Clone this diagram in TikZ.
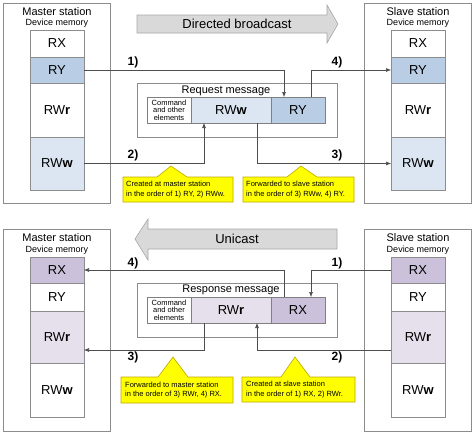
\documentclass[tikz,border=0pt]{standalone}
\usepackage{fontspec}
\setmainfont{Liberation Sans}
\usepackage{xcolor}
\usetikzlibrary{arrows.meta}
\definecolor{ryblue}{HTML}{B9CDE5}
\definecolor{rwwblue}{HTML}{DCE6F2}
\definecolor{rxpurple}{HTML}{CCC1DA}
\definecolor{rwrpurple}{HTML}{E6E0EC}
\definecolor{boxline}{HTML}{8C8C8C}
\definecolor{wire}{HTML}{4D4D4D}
\definecolor{notefill}{HTML}{FFFF00}
\definecolor{noteline}{HTML}{BFA600}
\definecolor{bandfill}{HTML}{D9D9D9}
\definecolor{bandline}{HTML}{A6A6A6}

\begin{document}
\begin{tikzpicture}[x=1pt, y=-1pt,
        station/.style={draw=boxline, fill=white, anchor=north west, inner sep=0, outer sep=0, minimum width=107},
        cell/.style={draw=boxline, anchor=north west, inner sep=0, outer sep=0, minimum width=54, font=\fontsize{13}{15}\selectfont},
        msgcell/.style={cell, draw=gray},
        title/.style={font=\fontsize{11}{13}\selectfont},
        sub/.style={font=\fontsize{9}{11}\selectfont},
        num/.style={font=\bfseries\fontsize{12}{14}\selectfont},
        link/.style={draw=wire, line width=0.6pt, -{Latex[length=5,width=4]}},
        band/.style={draw=bandline, fill=bandfill, line width=0.6pt},
        note/.style={draw=noteline, fill=notefill, line width=0.6pt},
        notetext/.style={anchor=west, align=left, inner sep=0, font=\fontsize{7.5}{9.5}\selectfont}
    ]
        %\draw[gray] (0,0) grid[step=10] (474,434);
        \useasboundingbox (0,0) rectangle (474,434);

        % --- directed broadcast ---
        \node[station, minimum height=200] (mst) at (3,3) {};
        \node[title] (mstT) at (57,12) {Master station};
        \node[sub] (mstS) at (57,23) {Device memory};
        \node[cell, minimum height=27] (mRX) at (30,30) {RX};
        \node[cell, minimum height=26, fill=ryblue] (mRY) at (30,57) {RY};
        \node[cell, minimum height=54] (mRWr) at (30,83) {RW\textbf{r}};
        \node[cell, minimum height=53, fill=rwwblue] (mRWw) at (30,137) {RW\textbf{w}};

        \node[station, minimum height=200] (sst) at (364,3) {};
        \node[title] (sstT) at (418,12) {Slave station};
        \node[sub] (sstS) at (418,23) {Device memory};
        \node[cell, minimum height=27] (sRX) at (391,30) {RX};
        \node[cell, minimum height=26, fill=ryblue] (sRY) at (391,57) {RY};
        \node[cell, minimum height=54] (sRWr) at (391,83) {RW\textbf{r}};
        \node[cell, minimum height=53, fill=rwwblue] (sRWw) at (391,137) {RW\textbf{w}};

        \draw[band] (137,15) -- (327,15) -- (327,5) -- (338,24) -- (327,43) -- (327,33) -- (137,33) -- cycle;
        \node[font=\fontsize{13}{15}\selectfont] (bcast) at (237,24) {Directed broadcast};

        \node[station, minimum width=200, minimum height=54] (req) at (137,83) {};
        \node[title] (reqT) at (226,91) {Request message};
        \node[msgcell, minimum width=44, minimum height=26, fill=white, align=center, font=\fontsize{7.5}{7.5}\selectfont] (qCmd) at (147,97) {Command\\and other\\elements};
        \node[msgcell, minimum width=80, minimum height=26, fill=rwwblue] (qRWw) at (191,97) {RW\textbf{w}};
        \node[msgcell, minimum height=26, fill=ryblue] (qRY) at (271,97) {RY};

        \draw[link] (mRY.east) -| ([xshift=13]qRY.north west);
        \draw[link] (mRWw.east) -| ([xshift=13]qRWw.south west);
        \draw[link] ([xshift=-14]qRWw.south east) |- (sRWw.west);
        \draw[link] ([xshift=-14]qRY.north east) |- (sRY.west);
        \node[num] (q1) at (133,62) {1)};
        \node[num] (q2) at (133,155) {2)};
        \node[num] (q3) at (337,155) {3)};
        \node[num] (q4) at (337,62) {4)};

        \draw[note] (123,177) -- (157,177) -- (171,166) -- (187,177) -- (233,177) -- (233,202) -- (123,202) -- cycle;
        \node[notetext] (qNote1) at (126,189.5) {Created at master station\\in the order of 1) RY, 2) RWw.};
        \draw[note] (243,177) -- (287,177) -- (301,166) -- (317,177) -- (354,177) -- (354,202) -- (243,202) -- cycle;
        \node[notetext] (qNote2) at (246,189.5) {Forwarded to slave station\\in the order of 3) RWw, 4) RY.};

        % --- unicast ---
        \node[station, minimum height=202] (mst2) at (3,229) {};
        \node[title] (mst2T) at (57,238) {Master station};
        \node[sub] (mst2S) at (57,250) {Device memory};
        \node[cell, minimum height=26, fill=rxpurple] (nRX) at (30,257) {RX};
        \node[cell, minimum height=28] (nRY) at (30,283) {RY};
        \node[cell, minimum height=52, fill=rwrpurple] (nRWr) at (30,311) {RW\textbf{r}};
        \node[cell, minimum height=54] (nRWw) at (30,363) {RW\textbf{w}};

        \node[station, minimum height=202] (sst2) at (364,229) {};
        \node[title] (sst2T) at (418,238) {Slave station};
        \node[sub] (sst2S) at (418,250) {Device memory};
        \node[cell, minimum height=26, fill=rxpurple] (tRX) at (391,257) {RX};
        \node[cell, minimum height=28] (tRY) at (391,283) {RY};
        \node[cell, minimum height=52, fill=rwrpurple] (tRWr) at (391,311) {RW\textbf{r}};
        \node[cell, minimum height=54] (tRWw) at (391,363) {RW\textbf{w}};

        \draw[band] (337,229) -- (148,229) -- (148,219) -- (135,239) -- (148,260) -- (148,249) -- (337,249) -- cycle;
        \node[font=\fontsize{13}{15}\selectfont] (ucast) at (237,239) {Unicast};

        \node[station, minimum width=200, minimum height=54] (resp) at (137,283) {};
        \node[title] (respT) at (231,290) {Response message};
        \node[msgcell, minimum width=44, minimum height=26, fill=white, align=center, font=\fontsize{7.5}{7.5}\selectfont] (pCmd) at (147,297) {Command\\and other\\elements};
        \node[msgcell, minimum width=80, minimum height=26, fill=rwrpurple] (pRWr) at (191,297) {RW\textbf{r}};
        \node[msgcell, minimum height=26, fill=rxpurple] (pRX) at (271,297) {RX};

        \draw[link] (tRX.west) -| ([xshift=-14]pRX.north east);
        \draw[link] ([yshift=-13]tRWr.west) -| ([xshift=-14]pRWr.south east);
        \draw[link] ([xshift=13]pRWr.south west) |- ([yshift=-13]nRWr.east);
        \draw[link] ([xshift=13]pRX.north west) |- (nRX.east);
        \node[num] (p1) at (337,263) {1)};
        \node[num] (p2) at (337,357) {2)};
        \node[num] (p3) at (133,357) {3)};
        \node[num] (p4) at (133,263) {4)};

        \draw[note] (121,377) -- (158,377) -- (173,357) -- (188,377) -- (233,377) -- (233,403) -- (121,403) -- cycle;
        \node[notetext] (pNote1) at (125,390) {Forwarded to master station\\in the order of 3) RWr, 4) RX.};
        \draw[note] (242,377) -- (281,377) -- (295,357) -- (310,377) -- (355,377) -- (355,402) -- (242,402) -- cycle;
        \node[notetext] (pNote2) at (246,389.5) {Created at slave station\\in the order of 1) RX, 2) RWr.};
    \end{tikzpicture}
\end{document}
